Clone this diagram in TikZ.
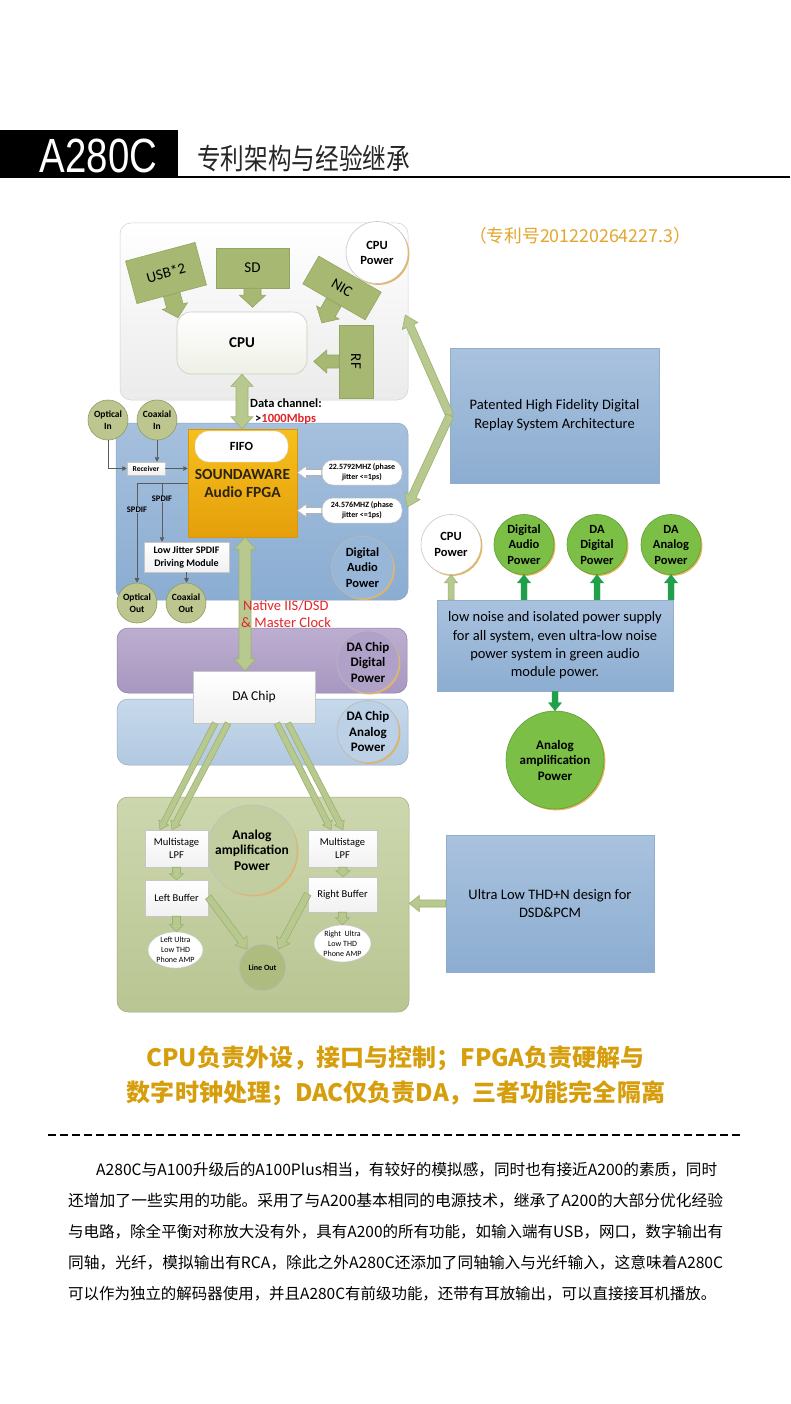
\documentclass[tikz,border=0pt]{standalone}
\usepackage{fontspec}
\usepackage{graphicx}
\setmainfont{Carlito}
\newfontfamily\cjk{Noto Sans CJK SC}
\newfontfamily\helv{Liberation Sans}
\usetikzlibrary{calc,shadows,arrows.meta,shapes.geometric}
\newcommand\fs[2]{\fontsize{#1pt}{#2pt}\selectfont}
\definecolor{boxg}{HTML}{A6B872}
\definecolor{boxgd}{HTML}{93A660}
\definecolor{arrf}{HTML}{B8C98F}
\definecolor{arrd}{HTML}{9DB070}
\definecolor{olc}{HTML}{BCC68E}
\definecolor{olcd}{HTML}{8E9C62}
\definecolor{cpb}{HTML}{EBEBEB}
\definecolor{cpd}{HTML}{D2D2D2}
\definecolor{cpub}{HTML}{EEF0E6}
\definecolor{cpud}{HTML}{C9CDBE}
\definecolor{dpt}{HTML}{A6C0DD}
\definecolor{dpb}{HTML}{8AADD2}
\definecolor{dpd}{HTML}{8AA7C6}
\definecolor{dpm}{HTML}{97B6D8}
\definecolor{ppt}{HTML}{BCAED0}
\definecolor{ppb}{HTML}{A897C1}
\definecolor{ppm}{HTML}{B0A1C8}
\definecolor{lbt}{HTML}{C7D9EB}
\definecolor{lbb}{HTML}{B2C9E1}
\definecolor{lbm}{HTML}{BCD0E6}
\definecolor{gpt}{HTML}{CDD7AE}
\definecolor{gpb}{HTML}{B9C592}
\definecolor{gpm}{HTML}{C3CEA0}
\definecolor{bbt}{HTML}{A9C2DE}
\definecolor{bbb}{HTML}{8CADD1}
\definecolor{bbd}{HTML}{93AECB}
\definecolor{pgreen}{HTML}{7BBF47}
\definecolor{pgreend}{HTML}{5E9E35}
\definecolor{darkg}{HTML}{21A04B}
\definecolor{shadc}{HTML}{E8B45A}
\definecolor{redtxt}{HTML}{E3262A}
\definecolor{goldt}{HTML}{D69E0C}
\definecolor{patc}{HTML}{E2A62E}
\definecolor{fpt}{HTML}{F7C01C}
\definecolor{fpb}{HTML}{E59F0B}
\definecolor{fpd}{HTML}{D4960E}
\definecolor{fptx}{HTML}{2B2414}
\definecolor{linec}{HTML}{5C5C5C}
\definecolor{wbot}{HTML}{F1F1F1}
\definecolor{lineo}{HTML}{AEBD7F}

% single block arrow: style, from, to, shaft width, head width, head length
\newcommand\blkA[6]{%
\path[#1] let \p1=(#2),\p2=(#3),\n1={atan2(\y2-\y1,\x2-\x1)},\n2={10*veclen((\x2-\x1)/10,(\y2-\y1)/10)} in
 ($(\p1)+(\n1+90:{#4*0.5pt})$)
 -- ($(\p1)+(\n1:{(\n2-#6)*1pt})+(\n1+90:{#4*0.5pt})$)
 -- ($(\p1)+(\n1:{(\n2-#6)*1pt})+(\n1+90:{#5*0.5pt})$)
 -- ($(\p1)+(\n1:{\n2*1pt})$)
 -- ($(\p1)+(\n1:{(\n2-#6)*1pt})+(\n1-90:{#5*0.5pt})$)
 -- ($(\p1)+(\n1:{(\n2-#6)*1pt})+(\n1-90:{#4*0.5pt})$)
 -- ($(\p1)+(\n1-90:{#4*0.5pt})$) -- cycle;}
% double block arrow
\newcommand\blkD[6]{%
\path[#1] let \p1=(#2),\p2=(#3),\n1={atan2(\y2-\y1,\x2-\x1)},\n2={10*veclen((\x2-\x1)/10,(\y2-\y1)/10)} in
 (\p1)
 -- ($(\p1)+(\n1:{#6*1pt})+(\n1+90:{#5*0.5pt})$)
 -- ($(\p1)+(\n1:{#6*1pt})+(\n1+90:{#4*0.5pt})$)
 -- ($(\p1)+(\n1:{(\n2-#6)*1pt})+(\n1+90:{#4*0.5pt})$)
 -- ($(\p1)+(\n1:{(\n2-#6)*1pt})+(\n1+90:{#5*0.5pt})$)
 -- ($(\p1)+(\n1:{\n2*1pt})$)
 -- ($(\p1)+(\n1:{(\n2-#6)*1pt})+(\n1-90:{#5*0.5pt})$)
 -- ($(\p1)+(\n1:{(\n2-#6)*1pt})+(\n1-90:{#4*0.5pt})$)
 -- ($(\p1)+(\n1:{#6*1pt})+(\n1-90:{#4*0.5pt})$)
 -- ($(\p1)+(\n1:{#6*1pt})+(\n1-90:{#5*0.5pt})$)
 -- cycle;}

\tikzset{
 gbox/.style={rectangle, fill=boxg, draw=boxgd, line width=0.6pt, inner sep=0pt, font=\fs{15}{18}},
 callst/.style={fill=boxg, draw=boxgd, line width=0.6pt},
 arrowst/.style={fill=arrf, draw=arrd, line width=0.6pt},
 warrst/.style={fill=white, draw=gray!60, line width=0.6pt},
 garrst/.style={fill=darkg, draw=darkg, line width=0.4pt},
 oarrst/.style={fill=arrf, draw=arrd, line width=0.5pt},
 thinl/.style={draw=linec, line width=0.9pt, -{Triangle[length=4.5pt,width=4.5pt]}},
 plainl/.style={draw=linec, line width=0.9pt},
 wbox/.style={rectangle, top color=white, bottom color=wbot, draw=gray!45, line width=0.5pt, inner sep=0pt, align=center},
 ocirc/.style={circle, fill=olc, draw=olcd, line width=0.6pt, minimum size=40pt, inner sep=0pt, align=center, font=\bfseries\fs{9.5}{11.5}},
 pcirc/.style={circle, minimum size=62pt, inner sep=0pt, align=center, line width=0.6pt, font=\bfseries\fs{13}{15.5},
   drop shadow={shadow xshift=1.4pt, shadow yshift=-1.4pt, fill=shadc, opacity=1}},
 bluebox/.style={rectangle, top color=bbt, bottom color=bbb, draw=bbd, line width=0.5pt, align=center, font=\fs{14.5}{18.3}, inner sep=0pt},
 panelst/.style={rectangle, rounded corners=11pt, line width=0.5pt},
 clkst/.style={rectangle, rounded corners=11pt, fill=white, draw=gray!50, line width=0.5pt, minimum width=80pt, minimum height=25pt, inner sep=0pt, align=center, font=\bfseries\fs{8}{10}},
 lblst/.style={inner sep=0.6pt, fill=dpm, font=\bfseries\fs{8.5}{10}},
 paral/.style={anchor=west, inner sep=0pt},
}

\begin{document}
\begin{tikzpicture}[x=1pt,y=-1pt]
\useasboundingbox (0,0) rectangle (790,1404);
\fill[white] (0,0) rectangle (790,1404);

% ---------- header ----------
\fill[black] (0,130) rectangle (178,178);
\draw[line width=2.5pt] (0,176.8) -- (790,176.8);
\node[text=white, inner sep=0pt] (hdr) at (98.5,155.5) {\helv\fs{48}{48}\scalebox{0.8}[1]{A280C}};
\node[anchor=west, inner sep=0pt, text=black!85] (ttl) at (197,158.5) {\cjk\fs{22}{22}\scalebox{1}[1.22]{\resizebox{213pt}{!}{专利架构与经验继承}}};

\node[text=patc, inner sep=0pt] (patno) at (580,236) {\cjk\fs{15}{15}\resizebox{222pt}{!}{（专利号201220264227.3）}};

% ---------- CPU panel ----------
\node[panelst, top color=white, bottom color=cpb, draw=cpd, minimum width=288pt, minimum height=177pt] (cpupanel) at (264,311.5) {};
\node[pcirc, fill=white, draw=gray!45, font=\bfseries\fs{12.5}{15}] (cpupw) at (377,252.5) {CPU\\Power};

\node[gbox, minimum width=72pt, minimum height=44pt, rotate=15] (usb) at (166,273) {USB*2};
\node[gbox, minimum width=73pt, minimum height=40pt] (sd) at (252.5,268) {SD};
\node[gbox, minimum width=72pt, minimum height=32pt, rotate=-30] (nic) at (342,288) {NIC};
\node[gbox, minimum width=73pt, minimum height=34pt, rotate=-90] (rf) at (356,361.5) {RF};

\blkA{callst}{usb.south}{$(usb.south)!-24pt!(usb.north)$}{17}{26}{12}
\blkA{callst}{sd.south}{$(sd.south)+(0,19)$}{17}{26}{12}
\blkA{callst}{nic.south}{$(nic.south)!-24pt!(nic.north)$}{17}{26}{12}
\blkA{callst}{rf.south}{$(rf.south)!-25pt!(rf.north)$}{13}{23}{13}

\node[rectangle, rounded corners=14pt, top color=white, bottom color=cpub, draw=cpud, line width=0.6pt, minimum width=130pt, minimum height=62pt, font=\bfseries\fs{15}{18}] (cpu) at (242,343) {CPU};

% ---------- digital panel ----------
\node[panelst, top color=dpt, bottom color=dpb, draw=dpd, minimum width=292pt, minimum height=177pt] (digpanel) at (262,511.5) {};
\node[ocirc] (opin) at (108,420) {Optical\\In};
\node[ocirc] (coin) at (157,420) {Coaxial\\In};
\node[wbox, minimum width=38pt, minimum height=13pt, font=\bfseries\fs{7.5}{9}] (rcv) at (146,468.5) {Receiver};

\node[rectangle, top color=fpt, bottom color=fpb, draw=fpd, line width=0.5pt, minimum width=109pt, minimum height=108pt] (fpga) at (242.5,483) {};
\node[rectangle, rounded corners=14pt, fill=white, draw=gray!35, minimum width=93pt, minimum height=31pt, font=\bfseries\fs{12.5}{15}] (fifo) at (241.5,446.5) {FIFO};
\node[align=center, font=\bfseries\fs{15.5}{18}, text=fptx, inner sep=0pt] (fpgat) at (242.5,483.5) {SOUNDAWARE\\Audio FPGA};

\node[clkst] (clk1) at (362,472.5) {22.5792MHZ (phase\\jitter <=1ps)};
\node[clkst] (clk2) at (362,510.5) {24.576MHZ (phase\\jitter <=1ps)};
\blkA{warrst}{clk1.west}{clk1.west -| fpga.east}{6}{13}{9}
\blkA{warrst}{clk2.west}{clk2.west -| fpga.east}{6}{13}{9}

\node[wbox, minimum width=85pt, minimum height=30pt, font=\bfseries\fs{10}{13}] (ljd) at (186.5,557) {Low Jitter SPDIF\\Driving Module};
\node[ocirc] (opout) at (137,603) {Optical\\Out};
\node[ocirc] (coout) at (186,603) {Coaxial\\Out};
\node[pcirc, fill=dpm, draw=gray!55, font=\bfseries\fs{12.5}{15.5}] (dapw) at (362.5,567.5) {Digital\\Audio\\Power};

\draw[thinl] (opin.south) |- (rcv.west);
\draw[thinl] (coin.south) -- (coin.south |- rcv.north);
\draw[thinl] (rcv.east) -- (rcv.east -| fpga.west);
\draw[thinl] (fpga.west) -| (opout.north);
\coordinate (br) at (162,483);
\draw[thinl] (br) -- (br |- ljd.north);
\draw[thinl] (ljd.south) -- (ljd.south |- coout.north);
\node[lblst] (sp1) at (162,499) {SPDIF};
\node[lblst] (sp2) at (137,509.5) {SPDIF};

% data channel
\blkD{arrowst}{cpu.south}{cpu.south |- fpga.north}{12}{22}{12}
\node[anchor=west, font=\bfseries\fs{12.5}{15}, inner sep=0pt] (dc1) at (250,403) {Data channel:};
\node[anchor=west, font=\bfseries\fs{12.5}{15}, inner sep=0pt] (dc2) at (255,419) {>\textcolor{redtxt}{1000Mbps}};

% ---------- DA panels ----------
\node[panelst, top color=ppt, bottom color=ppb, draw=ppb!85!black, minimum width=290pt, minimum height=65pt] (purp) at (262,660.5) {};
\node[panelst, top color=lbt, bottom color=lbb, draw=lbb!85!black, minimum width=291pt, minimum height=66pt] (lbp) at (262.5,732) {};
\node[pcirc, fill=ppm, draw=gray!55] (dadpw) at (368,662) {DA Chip\\Digital\\Power};
\node[pcirc, fill=lbm, draw=gray!55] (daapw) at (368,731.5) {DA Chip\\Analog\\Power};
\node[wbox, minimum width=122pt, minimum height=52pt, font=\fs{13.5}{16}] (dachip) at (254,697) {DA Chip};

\coordinate (natA) at ($(fpga.south)+(2.5,0)$);
\blkD{arrowst}{natA}{natA |- dachip.north}{12}{22}{12}
\node[anchor=west, text=redtxt, font=\fs{14.5}{17}, inner sep=0pt] (natt1) at (243,606) {Native IIS/DSD};
\node[anchor=west, text=redtxt, font=\fs{14.5}{17}, inner sep=0pt] (natt2) at (241,623) {\& Master Clock};

% ---------- analog panel ----------
\node[panelst, top color=gpt, bottom color=gpb, draw=gpb!85!black, minimum width=292pt, minimum height=215pt] (grp) at (263,904.5) {};
\node[pcirc, fill=gpm, draw=gray!50, minimum size=90pt, font=\bfseries\fs{13.5}{15.5}] (anpw) at (252,850) {Analog\\amplification\\Power};
\node[wbox, minimum width=63pt, minimum height=37pt, font=\fs{10.5}{13}] (lpfL) at (176.5,848.5) {Multistage\\LPF};
\node[wbox, minimum width=69pt, minimum height=37pt, font=\fs{10.5}{13}] (lpfR) at (342.5,848.5) {Multistage\\LPF};
\node[wbox, minimum width=63pt, minimum height=36pt, font=\fs{10.5}{13}] (bufL) at (176.5,898) {Left Buffer};
\node[wbox, minimum width=69pt, minimum height=35pt, font=\fs{10.5}{13}] (bufR) at (342.5,894.5) {Right Buffer};
\node[ellipse, fill=white, draw=gray!45, line width=0.5pt, minimum width=55pt, minimum height=35pt, inner sep=0pt, align=center, font=\fs{8}{10}] (ampL) at (175.5,950) {Left Ultra\\Low THD\\Phone AMP};
\node[ellipse, fill=white, draw=gray!45, line width=0.5pt, minimum width=57pt, minimum height=37pt, inner sep=0pt, align=center, font=\fs{8}{10}] (ampR) at (342.5,943.5) {Right\ \ Ultra\\Low THD\\Phone AMP};
\node[circle, fill=lineo, draw=gray!55, line width=0.6pt, minimum size=46pt, inner sep=0pt, font=\bfseries\fs{8}{10}] (lineout) at (262.5,967.5) {Line Out};

% DA chip to LPF
\blkA{arrowst}{$(dachip.south)+(-39,0)$}{$(lpfL.north)+(-16.5,0)$}{6}{11}{8}
\blkA{arrowst}{$(dachip.south)+(-26,0)$}{$(lpfL.north)+(-4.5,0)$}{6}{11}{8}
\blkA{arrowst}{$(dachip.south)+(23,0)$}{$(lpfR.north)+(-11.5,0)$}{6}{11}{8}
\blkA{arrowst}{$(dachip.south)+(34,0)$}{$(lpfR.north)+(0.5,0)$}{6}{11}{8}
% LPF to buffer, buffer to amp
\blkA{arrowst}{lpfL.south}{bufL.north}{8}{14}{6}
\blkA{arrowst}{$(lpfR.south)+(0.5,0)$}{$(lpfR.south |- bufR.north)+(0.5,0)$}{8}{14}{6}
\blkA{arrowst}{bufL.south}{bufL.south |- ampL.north}{8}{14}{7}
\blkA{arrowst}{bufR.south}{bufR.south |- ampR.north}{8}{14}{7}
\blkA{arrowst}{$(bufL.east)+(0,-1)$}{$(lineout.north west)+(1,-2)$}{7}{15}{10}
\blkA{arrowst}{$(bufR.west)+(0,-0.5)$}{$(lineout.north east)+(-0.5,-2)$}{7}{15}{10}

% ---------- right side ----------
\node[bluebox, minimum width=209pt, minimum height=135pt, font=\fs{14.5}{19}] (patbox) at (554.5,415.5) {Patented High Fidelity Digital\\Replay System Architecture};
\blkA{arrowst}{patbox.west}{$(cpupanel.east)+(-3,3.5)$}{8}{17}{12}
\blkA{arrowst}{patbox.west}{$(digpanel.east)+(-1,-4.5)$}{8}{17}{12}

\node[pcirc, fill=white, draw=gray!45, minimum size=60pt, font=\bfseries\fs{12.5}{15.5}] (pw1) at (451,544.5) {CPU\\Power};
\node[pcirc, fill=pgreen, draw=pgreend, minimum size=60pt, font=\bfseries\fs{12.5}{15.5}] (pw2) at (524,544.5) {Digital\\Audio\\Power};
\node[pcirc, fill=pgreen, draw=pgreend, minimum size=60pt, font=\bfseries\fs{12.5}{15.5}] (pw3) at (597,544.5) {DA\\Digital\\Power};
\node[pcirc, fill=pgreen, draw=pgreend, minimum size=60pt, font=\bfseries\fs{12.5}{15.5}] (pw4) at (671,544.5) {DA\\Analog\\Power};
\node[bluebox, minimum width=236pt, minimum height=91pt] (pwbox) at (555,645.5) {low noise and isolated power supply\\for all system, even ultra-low noise\\power system in green audio\\module power.};
\blkA{oarrst}{pwbox.north -| pw1}{pw1.south}{6}{13}{8}
\blkA{garrst}{pwbox.north -| pw2}{pw2.south}{6}{13}{8}
\blkA{garrst}{pwbox.north -| pw3}{pw3.south}{6}{13}{8}
\blkA{garrst}{pwbox.north -| pw4}{pw4.south}{6}{13}{8}
\node[pcirc, fill=pgreen, draw=pgreend, minimum size=98pt, font=\bfseries\fs{13}{15.5}] (amppw) at (555,760) {Analog\\amplification\\Power};
\blkA{garrst}{pwbox.south -| amppw}{amppw.north}{6}{13}{8}

\node[bluebox, minimum width=208pt, minimum height=137pt] (thdbox) at (550,903.5) {Ultra Low THD+N design for\\DSD\&PCM};
\blkA{arrowst}{thdbox.west}{thdbox.west -| grp.east}{7}{16}{10}

% ---------- bottom texts ----------
\node[text=goldt, inner sep=0pt] (g1) at (395.5,1058) {\cjk\bfseries\fs{23}{23}\resizebox{498pt}{!}{CPU负责外设，接口与控制；FPGA负责硬解与}};
\node[text=goldt, inner sep=0pt] (g2) at (396,1093) {\cjk\bfseries\fs{23}{23}\resizebox{538pt}{!}{数字时钟处理；DAC仅负责DA，三者功能完全隔离}};
\draw[line width=1.5pt, dash pattern=on 8pt off 4pt] (48,1135) -- (742,1135);

\node[paral] (p1) at (96,1170) {\cjk\fs{15.5}{15.5}\resizebox{621pt}{!}{A280C与A100升级后的A100Plus相当，有较好的模拟感，同时也有接近A200的素质，同时}};
\node[paral] (p2) at (68,1201) {\cjk\fs{15.5}{15.5}\resizebox{655pt}{!}{还增加了一些实用的功能。采用了与A200基本相同的电源技术，继承了A200的大部分优化经验}};
\node[paral] (p3) at (68,1232) {\cjk\fs{15.5}{15.5}\resizebox{655pt}{!}{与电路，除全平衡对称放大没有外，具有A200的所有功能，如输入端有USB，网口，数字输出有}};
\node[paral] (p4) at (68,1262.5) {\cjk\fs{15.5}{15.5}\resizebox{655pt}{!}{同轴，光纤，模拟输出有RCA，除此之外A280C还添加了同轴输入与光纤输入，这意味着A280C}};
\node[paral] (p5) at (68,1293.5) {\cjk\fs{15.5}{15.5}\resizebox{648pt}{!}{可以作为独立的解码器使用，并且A280C有前级功能，还带有耳放输出，可以直接接耳机播放。}};
\end{tikzpicture}
\end{document}
